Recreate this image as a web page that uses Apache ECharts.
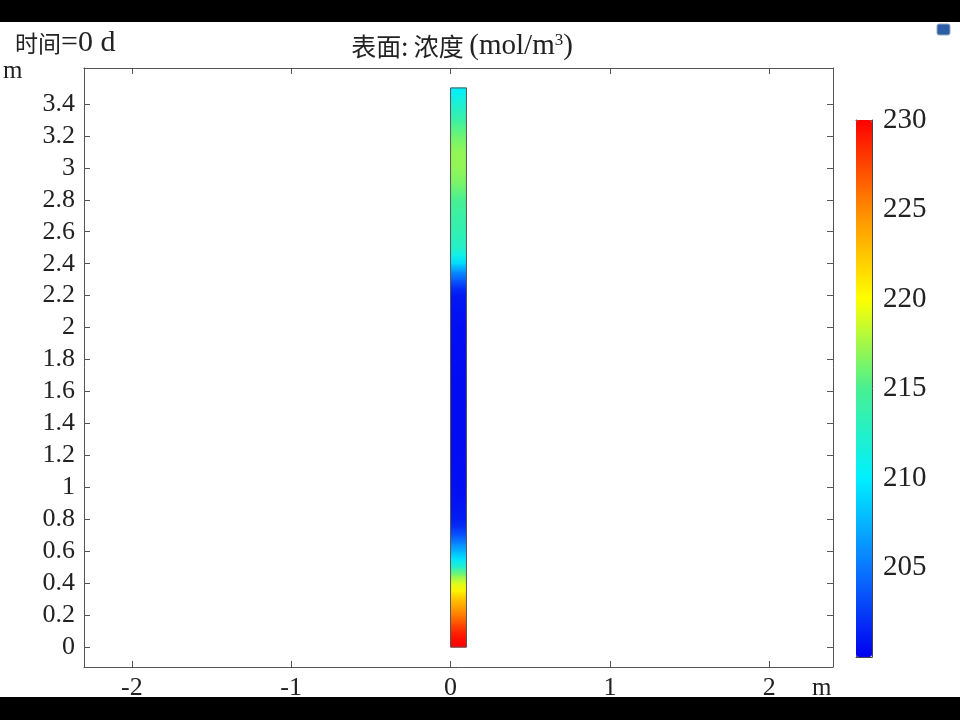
<!DOCTYPE html>
<html><head><meta charset="utf-8">
<script src="https://cdn.jsdelivr.net/npm/echarts@6/dist/echarts.min.js"></script>
<style>html,body{margin:0;padding:0;background:#fff}#c{width:960px;height:720px}</style>
</head><body><div id="c"></div>
<script>
const xTicks = [-2, -1, 0, 1, 2];
const yTicks = [0, 0.2, 0.4, 0.6, 0.8, 1, 1.2, 1.4, 1.6, 1.8, 2, 2.2, 2.4, 2.6, 2.8, 3, 3.2, 3.4];
const colorbarTicks = [205, 210, 215, 220, 225, 230];
const columnX = [0, 0.1];
const heights = [0, 0.05, 0.1, 0.15, 0.2, 0.25, 0.3, 0.35, 0.4, 0.45, 0.5, 0.55, 0.6, 0.65, 0.7, 0.75, 0.8, 0.9, 1.0, 1.5, 2.0, 2.2, 2.25, 2.3, 2.35, 2.4, 2.45, 2.5, 2.6, 2.7, 2.8, 2.9, 3.0, 3.1, 3.2, 3.3, 3.4, 3.45, 3.5];
const concentration = [230, 229.5, 228.5, 227, 225.5, 224, 222.5, 220.5, 219, 216.5, 212.5, 209.5, 207.5, 205.5, 203.5, 202, 201.2, 200.8, 200.6, 200.4, 200.6, 201, 202, 204, 206, 209, 211, 212.5, 213.5, 214, 215, 216.3, 217, 217, 216, 214, 212, 211, 210];
const cMin = 200, cMax = 230;
const jetColors = ['#0000f0', '#0a78ff', '#00f0ff', '#48f090', '#ffff00', '#ff8a00', '#ff0000'];

function hex(c){return [parseInt(c.slice(1,3),16),parseInt(c.slice(3,5),16),parseInt(c.slice(5,7),16)];}
function jet(v){
  let t = (v - cMin) / (cMax - cMin); t = Math.max(0, Math.min(1, t));
  const n = jetColors.length - 1; const f = t * n; let i = Math.floor(f); if (i >= n) i = n - 1;
  const a = hex(jetColors[i]), b = hex(jetColors[i+1]); const k = f - i;
  return 'rgb(' + a.map((x, j) => Math.round(x + (b[j] - x) * k)).join(',') + ')';
}

const segData = [];
for (let i = 0; i < heights.length - 1; i++) segData.push([heights[i], heights[i+1], concentration[i], concentration[i+1]]);

const serif = '"Liberation Serif", "DejaVu Serif", serif';
const cjk = '"Noto Sans CJK SC", sans-serif';
const axisColor = '#555';

function mkAxis(extra, ticks, showLabel, labelOpt, tickLen, color) {
  return Object.assign({
    type: 'value',
    axisLine: { show: true, onZero: false, lineStyle: { color: color || axisColor } },
    axisTick: ticks ? { show: true, inside: true, length: tickLen, customValues: ticks, lineStyle: { color: color || axisColor } } : { show: false },
    axisLabel: showLabel ? Object.assign({ customValues: ticks }, labelOpt) : { show: false },
    splitLine: { show: false }
  }, extra);
}

const chart = echarts.init(document.getElementById('c'));
chart.setOption({
  backgroundColor: '#fff',
  animation: false,
  title: {
    text: '{cn|表面: 浓度 }{en|(mol/m}{sup|3}{en|)}',
    left: 457, top: 27, textAlign: 'center',
    textStyle: { rich: {
      cn: { fontFamily: cjk, fontSize: 25, color: '#222', fontWeight: 'normal' },
      en: { fontFamily: serif, fontSize: 29, color: '#222', fontWeight: 'normal' },
      sup: { fontFamily: serif, fontSize: 17, color: '#222', fontWeight: 'normal', verticalAlign: 'top', padding: [0,0,12,0] }
    }}
  },
  grid: [
    { left: 84, top: 68, width: 749, height: 599, show: false },
    { left: 856, top: 120, width: 16, height: 537, show: false }
  ],
  xAxis: [
    mkAxis({ gridIndex: 0, min: -2.3, max: 2.4, position: 'bottom' }, xTicks, true,
      { fontFamily: serif, fontSize: 26, color: '#222', margin: 8 }, 6),
    mkAxis({ gridIndex: 0, min: -2.3, max: 2.4, position: 'top' }, xTicks, false, null, 6),
    mkAxis({ gridIndex: 1, min: 0, max: 1, position: 'bottom' }, null, false, null, 0, '#444'),
    mkAxis({ gridIndex: 1, min: 0, max: 1, position: 'top' }, null, false, null, 0, '#444')
  ],
  yAxis: [
    mkAxis({ gridIndex: 0, min: -0.125, max: 3.625, position: 'left' }, yTicks, true,
      { fontFamily: serif, fontSize: 26, color: '#222', margin: 9 }, 6),
    mkAxis({ gridIndex: 0, min: -0.125, max: 3.625, position: 'right' }, yTicks, false, null, 6),
    mkAxis({ gridIndex: 1, min: cMin, max: cMax, position: 'right' }, colorbarTicks, true,
      { fontFamily: serif, fontSize: 29, color: '#222', margin: 11 }, 3, '#444'),
    mkAxis({ gridIndex: 1, min: cMin, max: cMax, position: 'left' }, colorbarTicks, false, null, 3, '#444')
  ],
  visualMap: {
    type: 'continuous', min: cMin, max: cMax, show: true, calculable: false, hoverLink: false,
    left: 856, top: 120, itemWidth: 16, itemHeight: 537, padding: 0, seriesIndex: 1,
    inRange: { color: jetColors }
  },
  series: [
    { type: 'custom', xAxisIndex: 0, yAxisIndex: 0, data: segData, silent: true,
      renderItem: function (params, api) {
        const y0 = api.value(0), y1 = api.value(1);
        const p0 = api.coord([columnX[0], y0]);
        const p1 = api.coord([columnX[1], y1]);
        return { type: 'rect',
          shape: { x: p0[0], y: p1[1] - 0.5, width: p1[0] - p0[0], height: p0[1] - p1[1] + 1 },
          style: { fill: new echarts.graphic.LinearGradient(0, 0, 0, 1, [
            { offset: 0, color: jet(api.value(3)) }, { offset: 1, color: jet(api.value(2)) }]) } };
      } },
    { type: 'custom', xAxisIndex: 0, yAxisIndex: 0, data: [[heights[0], heights[heights.length-1]]], silent: true, z: 5,
      renderItem: function (params, api) {
        const p0 = api.coord([columnX[0], api.value(0)]);
        const p1 = api.coord([columnX[1], api.value(1)]);
        return { type: 'rect',
          shape: { x: p0[0], y: p1[1], width: p1[0] - p0[0], height: p0[1] - p1[1] },
          style: { fill: null, stroke: '#555', lineWidth: 1 } };
      } }
  ],
  graphic: [
    { type: 'text', left: 15, top: 28, style: { rich: {
        cn: { fontFamily: cjk, fontSize: 23, fill: '#222' },
        en: { fontFamily: serif, fontSize: 30, fill: '#222' } },
        text: '{cn|时间}{en|=0 d}' } },
    { type: 'text', x: 3, y: 59, style: { text: 'm', fontFamily: serif, fontSize: 25, fill: '#222' } },
    { type: 'text', x: 812, y: 676, style: { text: 'm', fontFamily: serif, fontSize: 25, fill: '#222' } },
    { type: 'rect', z: 200, shape: { x: 0, y: 0, width: 960, height: 22 }, style: { fill: '#000' } },
    { type: 'rect', z: 200, shape: { x: 0, y: 697, width: 960, height: 23 }, style: { fill: '#000' } },
    { type: 'rect', z: 200, shape: { x: 937, y: 24, width: 13, height: 11, r: 2 }, style: { fill: '#2a5fa8', stroke: '#9ab', lineWidth: 1 } }
  ]
});
</script></body></html>
